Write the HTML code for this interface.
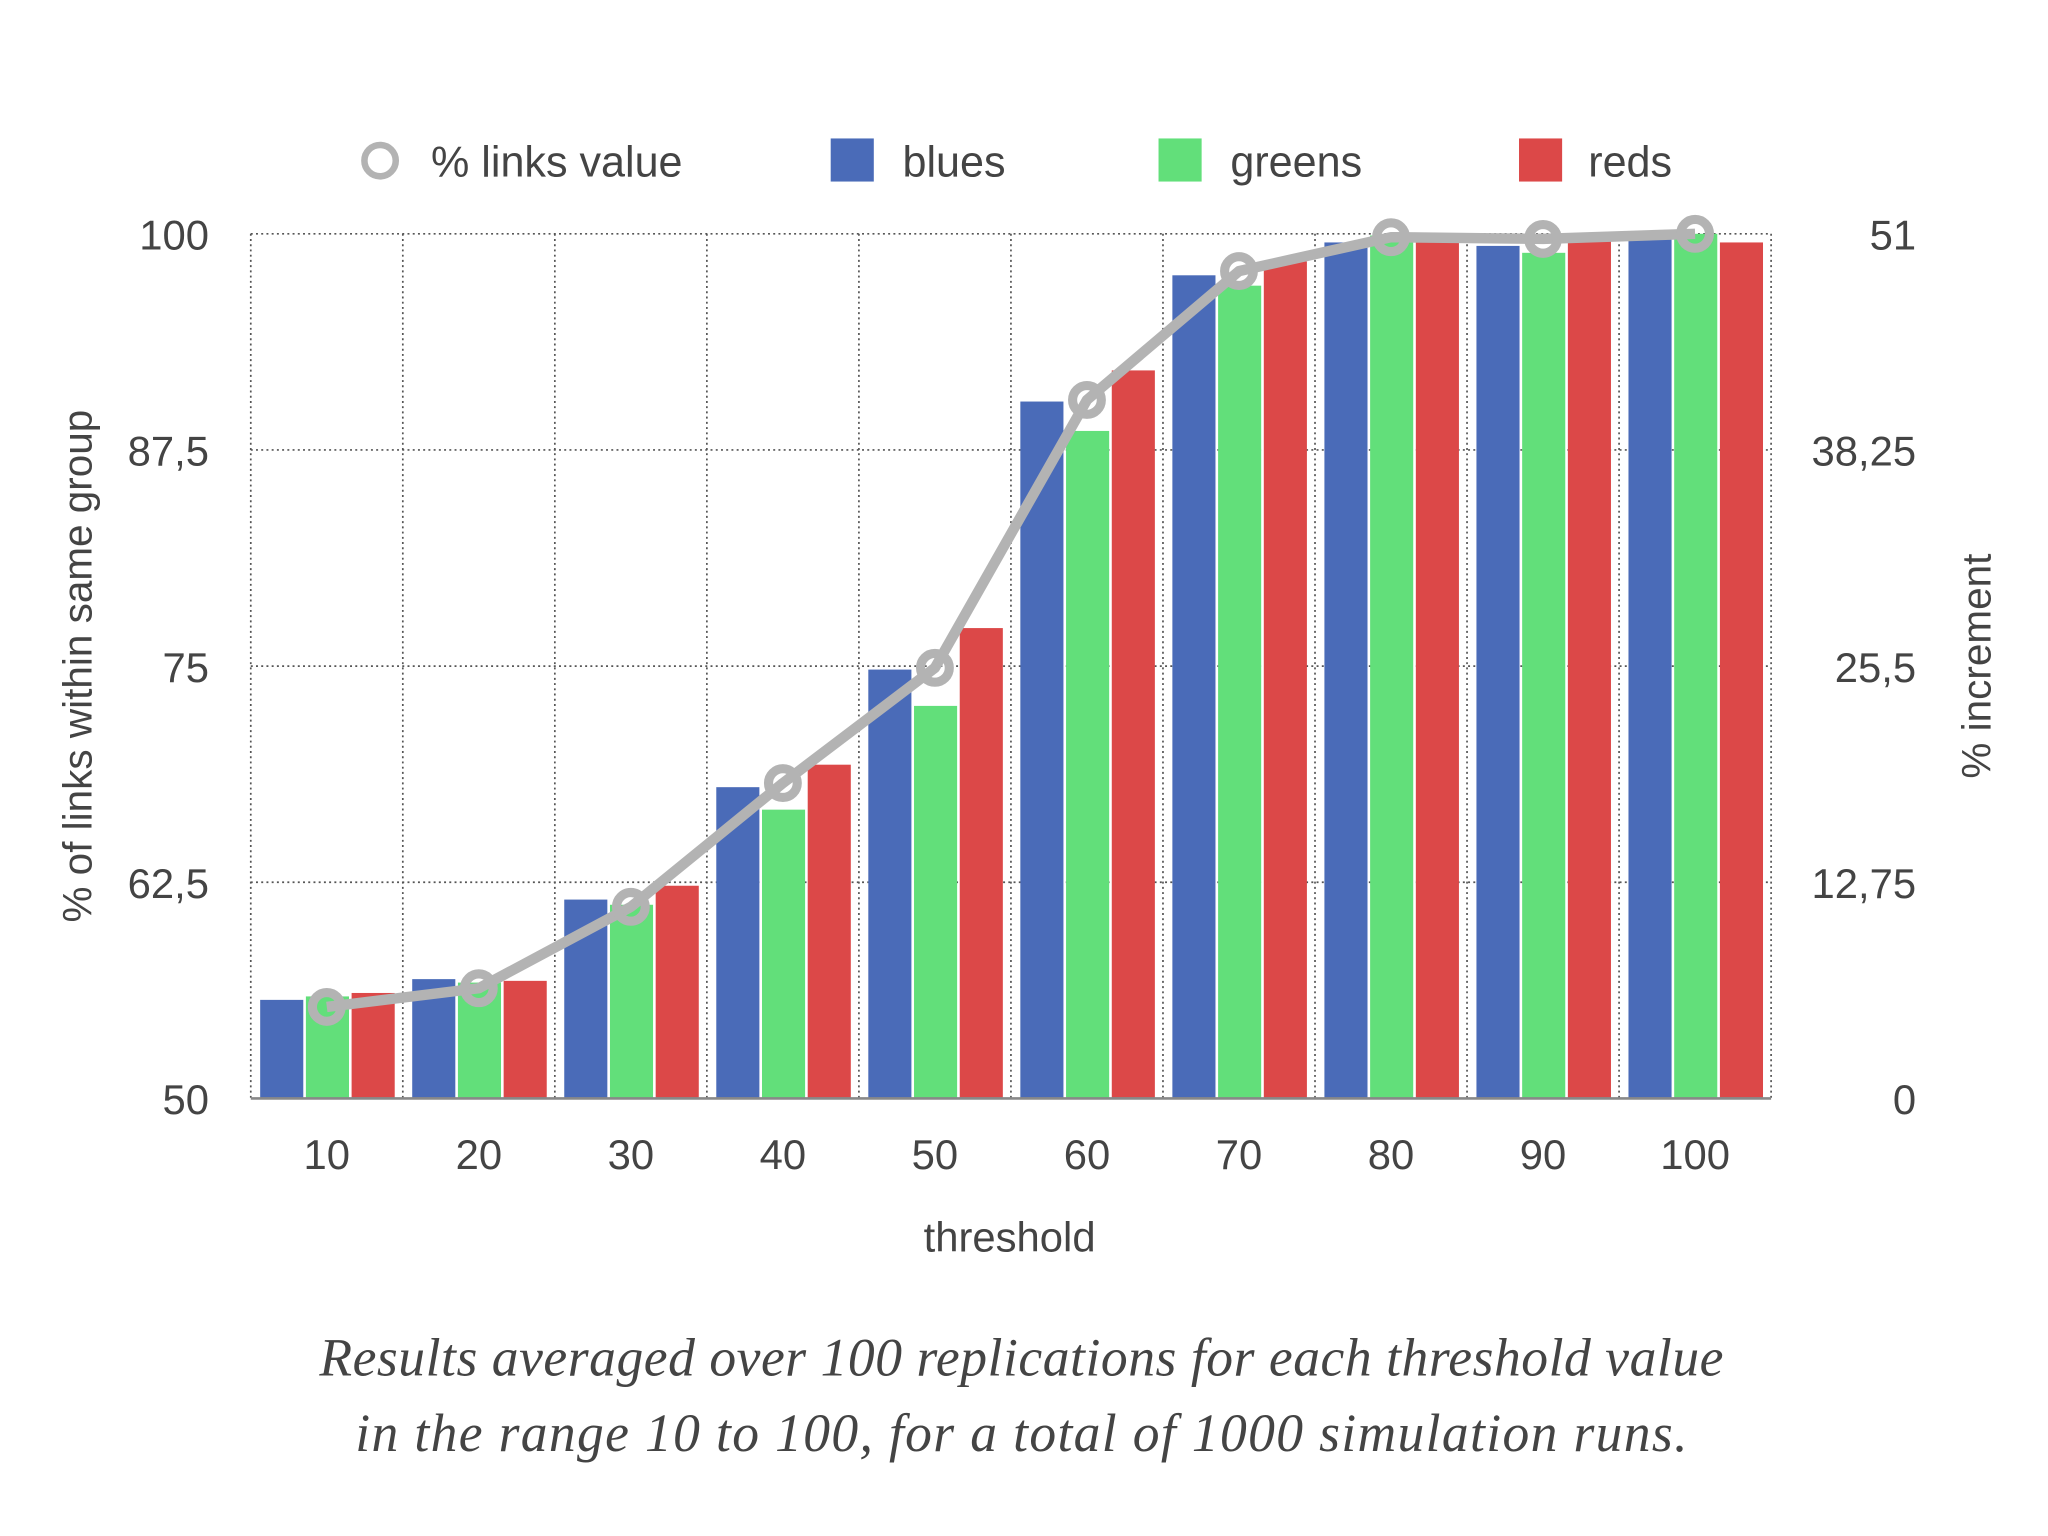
<!DOCTYPE html>
<html><head><meta charset="utf-8"><style>
html,body{margin:0;padding:0;background:#fff;}
svg{display:block;}
text{font-family:"Liberation Sans",sans-serif;fill:#444;}
</style></head><body>
<svg id="chart" width="2048" height="1536" viewBox="0 0 1568 1176" xmlns="http://www.w3.org/2000/svg">
<g id="grid"></g>
<g id="bars"></g>
<g id="line"></g>
<g id="axes"></g>
<g>
 <g><circle cx="291" cy="123" r="12" fill="none" stroke="#b3b3b3" stroke-width="5"/><text x="330" y="135" font-size="33">% links value</text></g>
 <g><rect x="636" y="106" width="33" height="33" fill="#4a6bb8"/><text x="691" y="135" font-size="33">blues</text></g>
 <g><rect x="887" y="106" width="33" height="33" fill="#62df7a"/><text x="942" y="135" font-size="33">greens</text></g>
 <g><rect x="1163" y="106" width="33" height="33" fill="#dc4848"/><text x="1216" y="135" font-size="33">reds</text></g>
</g>
<text x="773" y="958" font-size="32" text-anchor="middle">threshold</text>
<text transform="translate(70,510) rotate(-90)" font-size="31" text-anchor="middle">% of links within same group</text>
<text transform="translate(1524,510) rotate(-90)" font-size="31" text-anchor="middle">% increment</text>
<g>
<text x="782" y="1053" font-size="41" text-anchor="middle" textLength="1075" style="font-family:'Liberation Serif',serif;font-style:italic">Results averaged over 100 replications for each threshold value</text>
<text x="782" y="1111" font-size="41" text-anchor="middle" textLength="1020" style="font-family:'Liberation Serif',serif;font-style:italic">in the range 10 to 100, for a total of 1000 simulation runs.</text>
</g>
</svg>
<script>
const categories=["10","20","30","40","50","60","70","80","90","100"];
const blues=[55.7,56.9,61.5,68.0,74.8,90.3,97.6,99.5,99.3,99.8];
const greens=[55.9,56.7,61.2,66.7,72.7,88.6,97.0,99.9,98.9,100];
const reds=[56.1,56.8,62.3,69.3,77.2,92.1,98.4,99.8,99.8,99.5];
const linkValues=[5.4,6.5,11.3,18.6,25.4,41.2,48.8,50.8,50.7,51];
const leftTicks=["50","62,5","75","87,5","100"];
const rightTicks=["0","12,75","25,5","38,25","51"];
const NS="http://www.w3.org/2000/svg";
const X0=192,X1=1356,Y0=841,Y1=179;
const gw=(X1-X0)/categories.length;
const yL=v=>Y0-(v-50)/50*(Y0-Y1);
const yR=v=>Y0-v/51*(Y0-Y1);
const xc=i=>X0+gw*(i+0.5);
function mk(tag,attrs,parent){const e=document.createElementNS(NS,tag);for(const k in attrs)e.setAttribute(k,attrs[k]);document.getElementById(parent).appendChild(e);return e;}
for(let i=0;i<=categories.length;i++){const x=X0+gw*i;
 const l=mk('line',{x1:x,y1:Y1,x2:x,y2:Y0,stroke:'#555','stroke-width':1.3,'stroke-dasharray':'1.5 2.5'},'grid');
 
 }
leftTicks.forEach((t,i)=>{const y=Y0-i*(Y0-Y1)/4;
 if(i>0){const l=mk('line',{x1:X0,y1:y,x2:X1,y2:y,stroke:'#555','stroke-width':1.3,'stroke-dasharray':'1.5 2.5'},'grid');
 
 }
 const a=mk('text',{x:160,y:y+12,'font-size':32,'text-anchor':'end'},'axes');a.textContent=t;
 
 
 const b=mk('text',{x:1467,y:y+12,'font-size':32,'text-anchor':'end'},'axes');b.textContent=rightTicks[i];
 
 });
categories.forEach((c,i)=>{const t=mk('text',{x:xc(i),y:895,'font-size':32,'text-anchor':'middle'},'axes');t.textContent=c;
 
 });
const series=[[blues,'#4a6bb8','bar-blues'],[greens,'#62df7a','bar-greens'],[reds,'#dc4848','bar-reds']];
categories.forEach((c,i)=>{series.forEach((s,j)=>{const x=xc(i)-51+j*35;const y=yL(s[0][i]);
 const r=mk('rect',{x:x,y:y,width:33,height:Y0-y,fill:s[1]},'bars');
 
 });});
const ax=mk('line',{x1:X0,y1:Y0,x2:X1,y2:Y0,stroke:'#888','stroke-width':2},'axes');


const pts=linkValues.map((v,i)=>xc(i)+','+yR(v)).join(' ');
const pl=mk('polyline',{points:pts,fill:'none',stroke:'#b3b3b3','stroke-width':8,'stroke-linejoin':'round'},'line');


linkValues.forEach((v,i)=>{const c=mk('circle',{cx:xc(i),cy:yR(v),r:11,fill:'none',stroke:'#b3b3b3','stroke-width':7},'line');
 
 });
</script>
</body></html>
